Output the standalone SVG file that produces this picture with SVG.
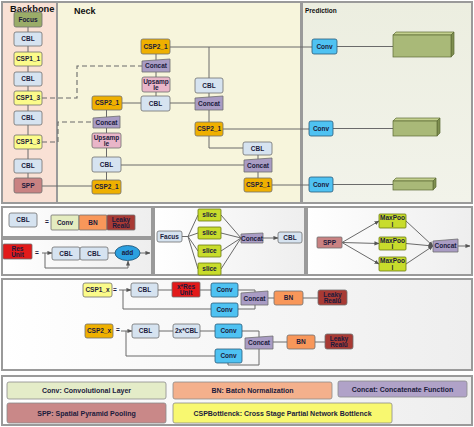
<svg xmlns="http://www.w3.org/2000/svg" width="474" height="427" viewBox="0 0 474 427">
<defs>
<marker id="ah" viewBox="0 0 6 6" refX="5.5" refY="3" markerWidth="5" markerHeight="5" orient="auto"><path d="M0,0.5 L6,3 L0,5.5 Z" fill="#555"/></marker>
<linearGradient id="pg" x1="0" y1="0" x2="0" y2="1"><stop offset="0" stop-color="#eceee0"/><stop offset="1" stop-color="#f2f3ea"/></linearGradient>
<linearGradient id="rg" x1="0" y1="0" x2="1" y2="0"><stop offset="0" stop-color="#ffffff"/><stop offset="1" stop-color="#eeeeee"/></linearGradient>
</defs>
<style>
.pan{stroke:#9a9a9a;stroke-width:2}
.n{stroke:#6e6e6e;stroke-width:0.8}
.t{font-family:"Liberation Sans",Arial,sans-serif;font-weight:bold;font-size:6.5px;fill:#1b1b3c;text-anchor:middle}
.lg{font-family:"Liberation Sans",Arial,sans-serif;font-weight:bold;font-size:7px;fill:#1b1b3c;text-anchor:middle}
.ttl{font-family:"Liberation Sans",Arial,sans-serif;font-weight:bold;fill:#111}
.cbl{fill:#d6e3f0}.csp1{fill:#fbfb8a}.csp2{fill:#efb000}.cat{fill:#a99cc4}.up{fill:#e9b5c8}
.spp{fill:#c98282}.focus{fill:#9aac68}.conv{fill:#4fc2f2;stroke:#2a5a7a}.convp{fill:#e4ecc0}
.bn{fill:#f8975a}.leaky{fill:#a83a34}.res{fill:#e21a1a}.slice{fill:#c8dc2c;stroke:#6a7a10}
.ln{stroke:#6a6a6a;stroke-width:1;fill:none}
.dash{stroke:#6a6a6a;stroke-width:1.1;fill:none;stroke-dasharray:5,3}
.cf{fill:#a9b978;stroke:#5c6b35;stroke-width:0.7}.ct{fill:#c3d08e;stroke:#5c6b35;stroke-width:0.7}.cs{fill:#7f8f50;stroke:#5c6b35;stroke-width:0.7}
</style>

<!-- panels -->
<rect x="2" y="2" width="55" height="201" fill="#f9e1d5" class="pan"/>
<rect x="57" y="2" width="244" height="201" fill="#f7f5dc" class="pan"/>
<rect x="302" y="2" width="170" height="201" fill="url(#pg)" class="pan"/>
<rect x="2" y="207" width="150" height="30" fill="url(#rg)" class="pan"/>
<rect x="2" y="239" width="150" height="36" fill="url(#rg)" class="pan"/>
<rect x="154" y="207" width="151" height="68" fill="url(#rg)" class="pan"/>
<rect x="307" y="207" width="165" height="68" fill="url(#rg)" class="pan"/>
<rect x="2" y="279" width="470" height="91" fill="url(#rg)" class="pan"/>
<rect x="2" y="376" width="470" height="49" fill="url(#rg)" class="pan"/>

<text class="ttl" x="10" y="12" font-size="9.3">Backbone</text>
<text class="ttl" x="74" y="14" font-size="9">Neck</text>
<text class="ttl" x="305" y="13" font-size="6.5">Prediction</text>

<!-- connectors -->
<g id="connectors">
<path class="ln" d="M28,26 V178"/>
<path class="ln" d="M42,186 H92"/>
<path class="ln" d="M106.5,180 V110"/>
<path class="ln" d="M122,103 H141"/>
<path class="ln" d="M156,96 V54"/>
<path class="ln" d="M170,47 H312"/>
<path class="ln" d="M209,47 V122"/>
<path class="ln" d="M170,103 H195"/>
<path class="ln" d="M223,129 H309"/>
<path class="ln" d="M209,136 V148 H243"/>
<path class="ln" d="M121,165 H244"/>
<path class="ln" d="M258,155 V178"/>
<path class="ln" d="M272,185 H309"/>
<path class="dash" d="M42,98 H77 V66 H142"/>
<path class="dash" d="M42,142 H58 V122 H93"/>
<path class="ln" d="M337,46.5 H393"/>
<path class="ln" d="M333,128.5 H393"/>
<path class="ln" d="M333,184.5 H393"/>
<!-- res unit -->
<path class="ln" d="M42,253 H52" marker-end="url(#ah)"/>
<path class="ln" d="M108,253 H115"/>
<path class="ln" d="M140,253 H150" marker-end="url(#ah)"/>
<path class="ln" d="M45,253 V268 H128 V261" marker-end="url(#ah)"/>
<!-- focus -->
<path class="ln" d="M182,236.5 H188 L198,215 M188,236.5 L198,233 M188,236.5 L198,251 M188,236.5 L198,269"/>
<path class="ln" d="M221,215 L241,238 M221,233 L241,238 M221,251 L241,238 M221,269 L241,238"/>
<path class="ln" d="M263,238 H278" marker-end="url(#ah)"/>
<!-- spp -->
<path class="ln" d="M342,242.5 L379,221" marker-end="url(#ah)"/>
<path class="ln" d="M342,242.5 L379,243.5" marker-end="url(#ah)"/>
<path class="ln" d="M342,242.5 L379,264" marker-end="url(#ah)"/>
<path class="ln" d="M406,221 L433,246" marker-end="url(#ah)"/>
<path class="ln" d="M406,243.5 L433,246" marker-end="url(#ah)"/>
<path class="ln" d="M406,264 L433,246" marker-end="url(#ah)"/>
<path class="ln" d="M458,246 H470" marker-end="url(#ah)"/>
<!-- csp1_x -->
<path class="ln" d="M119,290 H131" marker-end="url(#ah)"/>
<path class="ln" d="M123,290 V309 H211"/>
<path class="ln" d="M158,290 H172 M200,290 H211"/>
<path class="ln" d="M238,290 H255 V292 M238,309 H255 V305"/>
<path class="ln" d="M268,298 H274 M303,298 H318"/>
<!-- csp2_x -->
<path class="ln" d="M121,331 H132" marker-end="url(#ah)"/>
<path class="ln" d="M126,331 V356 H215"/>
<path class="ln" d="M159,331 H173 M200,331 H215"/>
<path class="ln" d="M242,331 H259 V337 M228,363 V365 H259 V349"/>
<path class="ln" d="M273,342 H287 M315,342 H325"/>
</g>

<!-- backbone -->
<g id="bb_focus"><rect class="n focus" x="14" y="12" width="28" height="15" rx="2"/><text class="t" x="28" y="21.8">Focus</text></g>
<g id="bb_cbl1"><rect class="n cbl" x="14" y="32" width="28" height="14" rx="2"/><text class="t" x="28" y="41.3">CBL</text></g>
<g id="bb_csp1_1"><rect class="n csp1" x="14" y="52" width="28" height="14" rx="2"/><text class="t" x="28" y="61.3">CSP1_1</text></g>
<g id="bb_cbl2"><rect class="n cbl" x="14" y="72" width="28" height="14" rx="2"/><text class="t" x="28" y="81.3">CBL</text></g>
<g id="bb_csp1_3a"><rect class="n csp1" x="14" y="91" width="28" height="14" rx="2"/><text class="t" x="28" y="100.3">CSP1_3</text></g>
<g id="bb_cbl3"><rect class="n cbl" x="14" y="111" width="28" height="14" rx="2"/><text class="t" x="28" y="120.3">CBL</text></g>
<g id="bb_csp1_3b"><rect class="n csp1" x="14" y="135" width="28" height="14" rx="2"/><text class="t" x="28" y="144.3">CSP1_3</text></g>
<g id="bb_cbl4"><rect class="n cbl" x="14" y="159" width="28" height="14" rx="2"/><text class="t" x="28" y="168.3">CBL</text></g>
<g id="bb_spp"><rect class="n spp" x="14" y="178" width="28" height="15" rx="2"/><text class="t" x="28" y="187.8">SPP</text></g>

<!-- neck -->
<g id="nk_csp2a"><rect class="n csp2" x="141" y="39" width="29" height="15" rx="2"/><text class="t" x="155.5" y="48.8">CSP2_1</text></g>
<g id="nk_cat1"><polygon class="n cat" points="142,61 170,59 170,72 142,72"/><text class="t" x="156" y="68.3">Concat</text></g>
<g id="nk_up1"><rect class="n up" x="142" y="77" width="28" height="15" rx="2"/><text class="t" x="156" y="83.5">Upsamp</text><text class="t" x="156" y="90">le</text></g>
<g id="nk_cbl1"><rect class="n cbl" x="141" y="96" width="29" height="15" rx="2"/><text class="t" x="155.5" y="105.8">CBL</text></g>
<g id="nk_csp2b"><rect class="n csp2" x="92" y="96" width="30" height="14" rx="2"/><text class="t" x="107" y="105.3">CSP2_1</text></g>
<g id="nk_cat2"><polygon class="n cat" points="93,118 120,116 120,128 93,128"/><text class="t" x="106.5" y="124.8">Concat</text></g>
<g id="nk_up2"><rect class="n up" x="92" y="133" width="29" height="15" rx="2"/><text class="t" x="106.5" y="139.5">Upsamp</text><text class="t" x="106.5" y="146">le</text></g>
<g id="nk_cbl2"><rect class="n cbl" x="92" y="157" width="29" height="15" rx="2"/><text class="t" x="106.5" y="166.8">CBL</text></g>
<g id="nk_csp2c"><rect class="n csp2" x="92" y="180" width="29" height="14" rx="2"/><text class="t" x="106.5" y="189.3">CSP2_1</text></g>
<g id="nk_cbl3"><rect class="n cbl" x="195" y="78" width="28" height="15" rx="2"/><text class="t" x="209" y="87.8">CBL</text></g>
<g id="nk_cat3"><polygon class="n cat" points="195,98 223,96 223,110 195,110"/><text class="t" x="209" y="105.8">Concat</text></g>
<g id="nk_csp2d"><rect class="n csp2" x="195" y="122" width="28" height="14" rx="2"/><text class="t" x="209" y="131.3">CSP2_1</text></g>
<g id="nk_cbl4"><rect class="n cbl" x="243" y="142" width="29" height="13" rx="2"/><text class="t" x="257.5" y="150.8">CBL</text></g>
<g id="nk_cat4"><polygon class="n cat" points="244,160 272,158 272,172 244,172"/><text class="t" x="258" y="167.8">Concat</text></g>
<g id="nk_csp2e"><rect class="n csp2" x="244" y="178" width="28" height="14" rx="2"/><text class="t" x="258" y="187.3">CSP2_1</text></g>

<!-- prediction -->
<g id="pr_conv1"><rect class="n conv" x="312" y="39" width="25" height="15" rx="2"/><text class="t" x="324.5" y="48.8">Conv</text></g>
<g id="pr_conv2"><rect class="n conv" x="309" y="121" width="24" height="15" rx="2"/><text class="t" x="321" y="130.8">Conv</text></g>
<g id="pr_conv3"><rect class="n conv" x="309" y="177" width="24" height="15" rx="2"/><text class="t" x="321" y="186.8">Conv</text></g>
<g id="pr_out1"><polygon class="ct" points="393,35 396,32 454,32 451,35"/><polygon class="cs" points="451,35 454,32 454,54 451,57"/><rect class="cf" x="393" y="35" width="58" height="22"/></g>
<g id="pr_out2"><polygon class="ct" points="393,121 396,118 440,118 437,121"/><polygon class="cs" points="437,121 440,118 440,133 437,136"/><rect class="cf" x="393" y="121" width="44" height="15"/></g>
<g id="pr_out3"><polygon class="ct" points="393,181 396,178 436,178 433,181"/><polygon class="cs" points="433,181 436,178 436,187 433,190"/><rect class="cf" x="393" y="181" width="40" height="9"/></g>

<!-- CBL definition -->
<g id="d_cbl"><rect class="n cbl" x="9" y="213" width="28" height="14" rx="2"/><text class="t" x="23" y="222.3">CBL</text></g>
<text class="t" x="47" y="224" font-size="8">=</text>
<g id="d_conv"><rect class="n convp" x="51" y="215" width="28" height="15" rx="1"/><text class="t" x="65" y="224.8">Conv</text></g>
<g id="d_bn"><rect class="n bn" x="79" y="215" width="28" height="15" rx="1"/><text class="t" x="93" y="224.8">BN</text></g>
<g id="d_leaky"><rect class="n leaky" x="107" y="215" width="28" height="15" rx="1"/><text class="t" x="121" y="221.5" fill="#3a0a0a">Leaky</text><text class="t" x="121" y="228" fill="#3a0a0a">Realu</text></g>

<!-- Res unit -->
<g id="d_res"><rect class="n res" x="3" y="244" width="29" height="15" rx="1"/><text class="t" x="17.5" y="250.5" fill="#6a0808">Res</text><text class="t" x="17.5" y="257" fill="#6a0808">Unit</text></g>
<text class="t" x="37" y="255" font-size="8">=</text>
<g id="d_rcbl1"><rect class="n cbl" x="52" y="247" width="28" height="13" rx="2"/><text class="t" x="66" y="255.8">CBL</text></g>
<g id="d_rcbl2"><rect class="n cbl" x="80" y="247" width="28" height="13" rx="2"/><text class="t" x="94" y="255.8">CBL</text></g>
<g id="d_add"><ellipse cx="127.5" cy="253" rx="12.5" ry="7.5" fill="#2ba0e0" stroke="#1a4a6a" stroke-width="0.8"/><text class="t" x="127.5" y="255.3">add</text></g>

<!-- Focus -->
<g id="f_facus"><rect class="n cbl" x="157" y="231" width="25" height="11" rx="2"/><text class="t" x="169.5" y="238.8">Facus</text></g>
<g id="f_s1"><rect class="n slice" x="198" y="209" width="23" height="12" rx="1"/><text class="t" x="209.5" y="217.3">slice</text></g>
<g id="f_s2"><rect class="n slice" x="198" y="227" width="23" height="12" rx="1"/><text class="t" x="209.5" y="235.3">slice</text></g>
<g id="f_s3"><rect class="n slice" x="198" y="245" width="23" height="12" rx="1"/><text class="t" x="209.5" y="253.3">slice</text></g>
<g id="f_s4"><rect class="n slice" x="198" y="263" width="23" height="12" rx="1"/><text class="t" x="209.5" y="271.3">slice</text></g>
<g id="f_cat"><polygon class="n cat" points="241,234 263,233 263,243 241,243"/><text class="t" x="252" y="240.5">Concat</text></g>
<g id="f_cbl"><rect class="n cbl" x="278" y="232" width="24" height="11" rx="2"/><text class="t" x="290" y="239.8">CBL</text></g>

<!-- SPP -->
<g id="s_spp"><rect class="n spp" x="317" y="237" width="25" height="11" rx="1"/><text class="t" x="329.5" y="244.8">SPP</text></g>
<g id="s_m1"><rect class="n slice" x="379" y="214" width="27" height="14" rx="1"/><text class="t" x="392.5" y="220">MaxPoo</text><text class="t" x="392.5" y="226.5">l</text></g>
<g id="s_m2"><rect class="n slice" x="379" y="237" width="27" height="13" rx="1"/><text class="t" x="392.5" y="242.5">MaxPoo</text><text class="t" x="392.5" y="249">l</text></g>
<g id="s_m3"><rect class="n slice" x="379" y="257" width="27" height="14" rx="1"/><text class="t" x="392.5" y="263">MaxPoo</text><text class="t" x="392.5" y="269.5">l</text></g>
<g id="s_cat"><polygon class="n cat" points="433,241 458,239 458,252 433,252"/><text class="t" x="445.5" y="248">Concat</text></g>

<!-- CSP1_x -->
<g id="c1_x"><rect class="n csp1" x="83" y="283" width="29" height="14" rx="2"/><text class="t" x="97.5" y="292.3">CSP1_x</text></g>
<text class="t" x="115" y="292" font-size="8">=</text>
<g id="c1_cbl"><rect class="n cbl" x="131" y="283" width="27" height="14" rx="2"/><text class="t" x="144.5" y="292.3">CBL</text></g>
<g id="c1_res"><rect class="n res" x="172" y="282" width="28" height="15" rx="1"/><text class="t" x="186" y="288.5" fill="#6a0808">x*Res</text><text class="t" x="186" y="295" fill="#6a0808">Unit</text></g>
<g id="c1_conv1"><rect class="n conv" x="211" y="283" width="27" height="14" rx="2"/><text class="t" x="224.5" y="292.3">Conv</text></g>
<g id="c1_conv2"><rect class="n conv" x="211" y="303" width="27" height="14" rx="2"/><text class="t" x="224.5" y="312.3">Conv</text></g>
<g id="c1_cat"><polygon class="n cat" points="241,293 268,291 268,305 241,305"/><text class="t" x="254.5" y="300.5">Concat</text></g>
<g id="c1_bn"><rect class="n bn" x="274" y="291" width="29" height="14" rx="2"/><text class="t" x="288.5" y="300.3">BN</text></g>
<g id="c1_leaky"><rect class="n leaky" x="318" y="290" width="29" height="15" rx="2"/><text class="t" x="332.5" y="296.5" fill="#3a0a0a">Leaky</text><text class="t" x="332.5" y="303" fill="#3a0a0a">Realu</text></g>

<!-- CSP2_x -->
<g id="c2_x"><rect class="n csp2" x="85" y="324" width="28" height="14" rx="2"/><text class="t" x="99" y="333.3">CSP2_x</text></g>
<text class="t" x="118" y="332" font-size="8">=</text>
<g id="c2_cbl"><rect class="n cbl" x="132" y="324" width="27" height="14" rx="2"/><text class="t" x="145.5" y="333.3">CBL</text></g>
<g id="c2_2cbl"><rect class="n cbl" x="173" y="324" width="27" height="14" rx="2"/><text class="t" x="186.5" y="333.3">2x*CBL</text></g>
<g id="c2_conv1"><rect class="n conv" x="215" y="324" width="27" height="14" rx="2"/><text class="t" x="228.5" y="333.3">Conv</text></g>
<g id="c2_conv2"><rect class="n conv" x="215" y="349" width="27" height="14" rx="2"/><text class="t" x="228.5" y="358.3">Conv</text></g>
<g id="c2_cat"><polygon class="n cat" points="245,338 273,336 273,349 245,349"/><text class="t" x="259" y="345">Concat</text></g>
<g id="c2_bn"><rect class="n bn" x="287" y="335" width="28" height="14" rx="2"/><text class="t" x="301" y="344.3">BN</text></g>
<g id="c2_leaky"><rect class="n leaky" x="325" y="334" width="28" height="15" rx="2"/><text class="t" x="339" y="340.5" fill="#3a0a0a">Leaky</text><text class="t" x="339" y="347" fill="#3a0a0a">Realu</text></g>

<!-- legend -->
<g id="lg_conv"><rect x="7" y="382" width="159" height="17" rx="2" fill="#e4ecc8" stroke="#8a8a8a" stroke-width="0.8"/><text class="lg" x="86.5" y="393">Conv:  Convolutional Layer</text></g>
<g id="lg_bn"><rect x="173" y="382" width="159" height="17" rx="2" fill="#f4b08c" stroke="#8a8a8a" stroke-width="0.8"/><text class="lg" x="252.5" y="393">BN:  Batch Normalization</text></g>
<g id="lg_cat"><rect x="338" y="381" width="129" height="16" rx="2" fill="#b0a2c8" stroke="#8a8a8a" stroke-width="0.8"/><text class="lg" x="402.5" y="391.5">Concat:  Concatenate Function</text></g>
<g id="lg_spp"><rect x="7" y="403" width="159" height="20" rx="2" fill="#c98888" stroke="#8a8a8a" stroke-width="0.8"/><text class="lg" x="86.5" y="415.5">SPP:  Spatial Pyramid Pooling</text></g>
<g id="lg_csp"><rect x="173" y="403" width="219" height="20" rx="2" fill="#f8f870" stroke="#8a8a8a" stroke-width="0.8"/><text class="lg" x="282.5" y="415.5">CSPBottlenck:  Cross Stage Partial Network Bottlenck</text></g>
</svg>
